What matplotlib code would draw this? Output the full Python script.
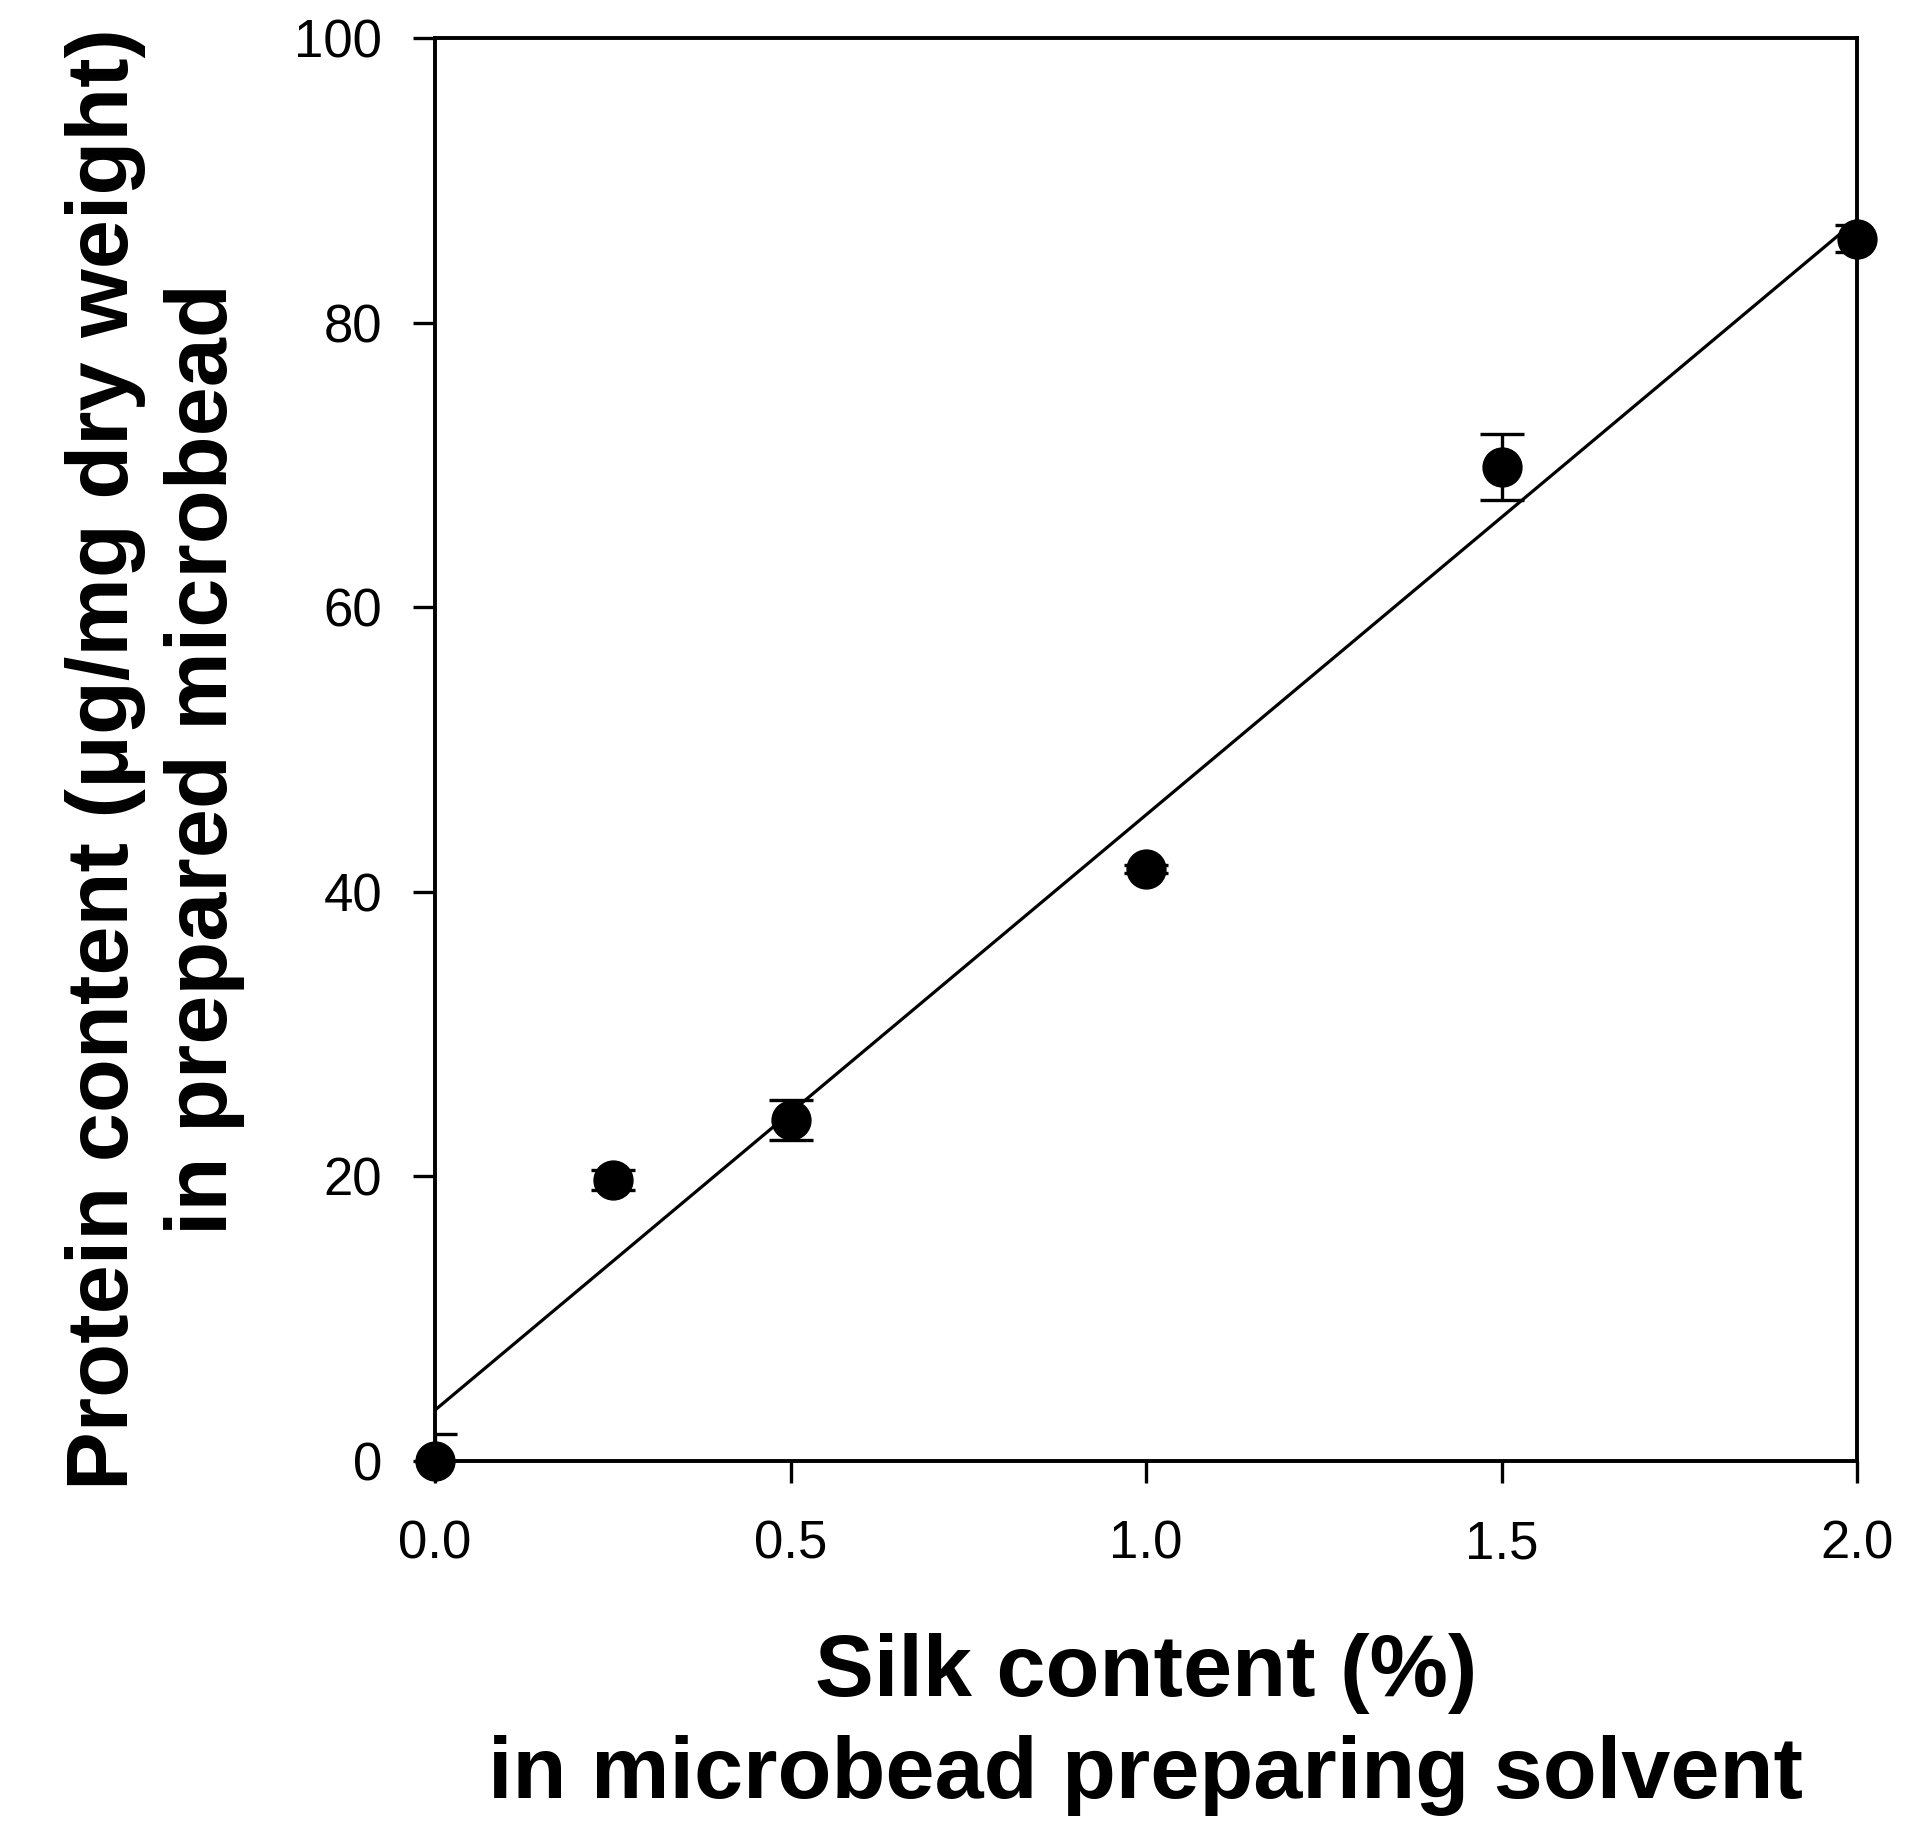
import numpy as np
import matplotlib
matplotlib.use("Agg")
import matplotlib.pyplot as plt

plt.rcParams['font.family'] = ['Liberation Sans', 'DejaVu Sans']

# silk content (%) vs protein content (ug/mg dry weight)
silk = [0.0, 0.25, 0.5, 1.0, 1.5, 2.0]
protein = [0.0, 19.75, 23.95, 41.6, 69.85, 85.9]
protein_err = [1.9, 0.7, 1.42, 0.3, 2.35, 0.95]

x_ticks = [0.0, 0.5, 1.0, 1.5, 2.0]
y_ticks = [0, 20, 40, 60, 80, 100]

# linear regression line
slope, icpt = np.polyfit(silk, protein, 1)
fit_x = np.array([silk[0], silk[-1]])
fit_y = slope * fit_x + icpt

fig = plt.figure(figsize=(19.12, 18.36), dpi=100)
ax = fig.add_axes([435/1912, 1 - 1461/1836, 1422/1912, 1423/1836])

ax.plot(fit_x, fit_y, color='black', lw=2.3)
ax.errorbar(silk, protein, yerr=protein_err, fmt='none', ecolor='black',
            elinewidth=2.4, capsize=16, capthick=2.4)
ax.plot(silk, protein, 'o', color='black', ms=28, clip_on=False, zorder=5)

ax.set_xlim(0, 2)
ax.set_ylim(0, 100)
ax.set_xticks(x_ticks)
ax.set_xticklabels([f'{v:.1f}' for v in x_ticks])
ax.set_yticks(y_ticks)
ax.tick_params(axis='both', direction='out', length=16, width=2.4,
               labelsize=38, top=False, right=False)
ax.tick_params(axis='x', pad=26)
ax.tick_params(axis='y', pad=22)
for s in ax.spines.values():
    s.set_linewidth(2.8)

ax.set_xlabel('Silk content (%)\nin microbead preparing solvent',
              fontsize=63.5, fontweight='bold', linespacing=1.33)
ax.xaxis.set_label_coords(0.5, -0.121)
ax.set_ylabel('Protein content (\u03bcg/mg dry weight)\nin prepared microbead',
              fontsize=63.5, fontweight='bold', linespacing=1.28)
ax.yaxis.set_label_coords(-0.1336, 0.493)

fig.savefig('out.png', dpi=100)
